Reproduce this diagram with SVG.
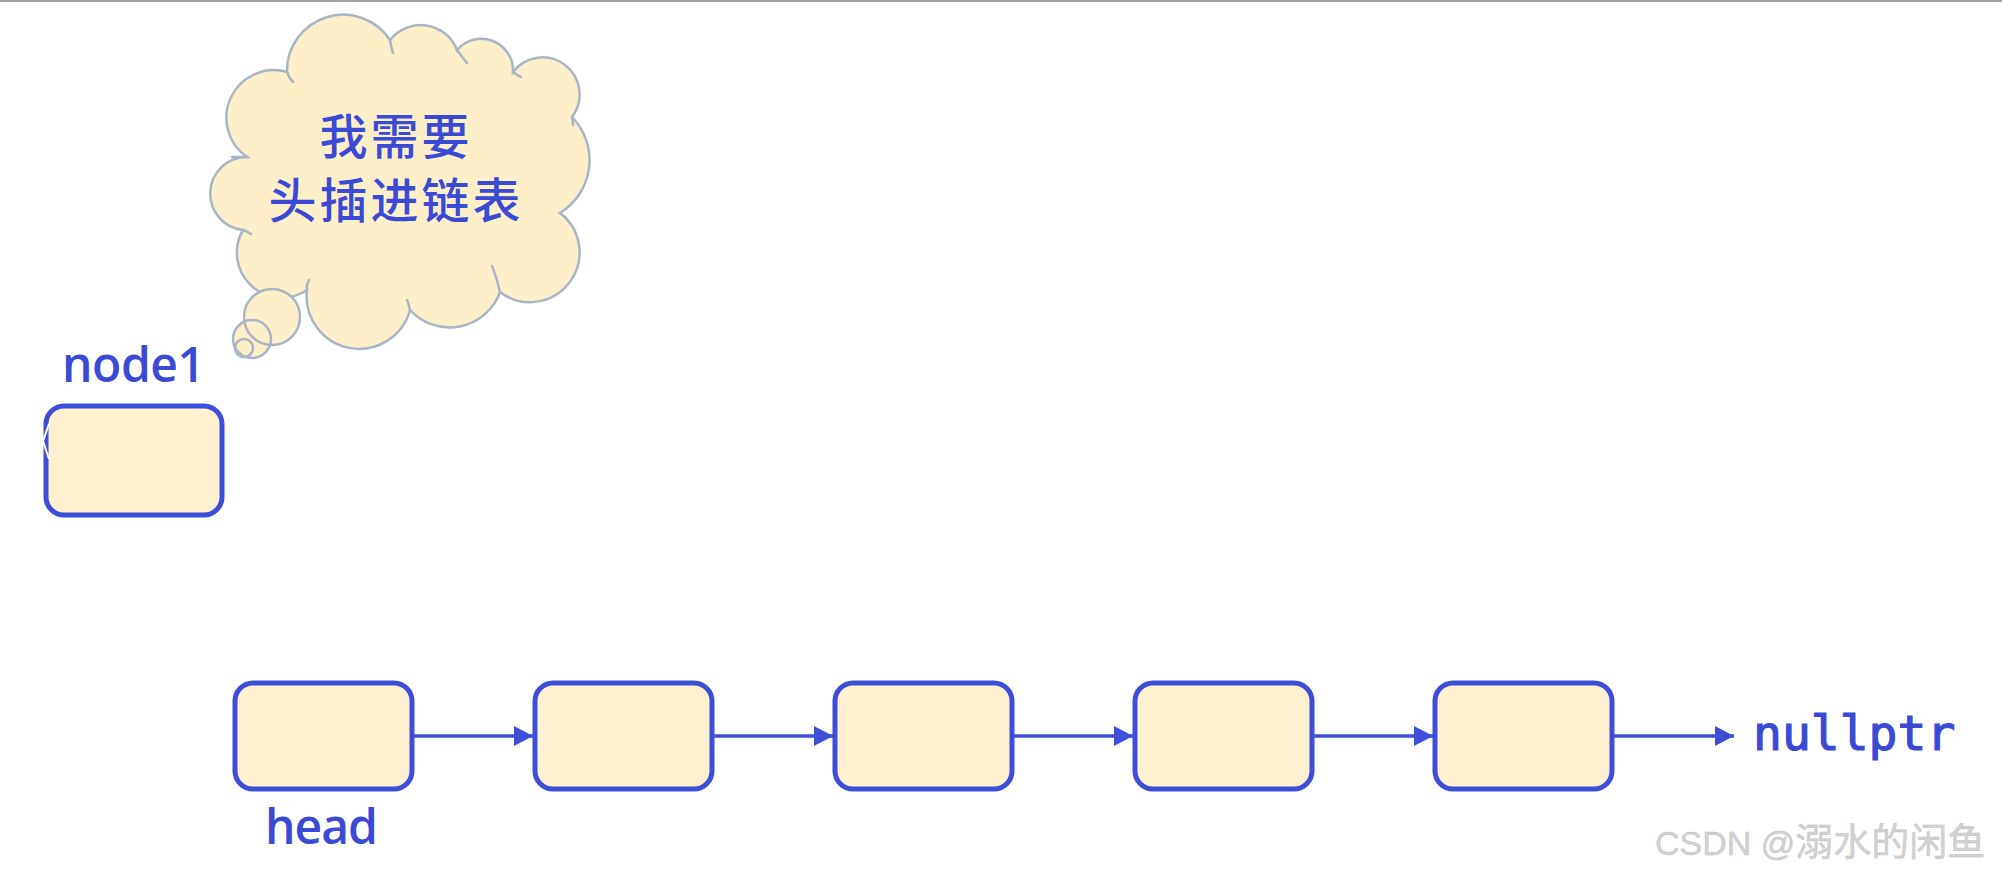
<svg xmlns="http://www.w3.org/2000/svg" width="2002" height="881" viewBox="0 0 2002 881">
<style>
.box{fill:#fff0cf;stroke:#3d4ed8;stroke-width:5}
.lbl{font-family:"Open Sans","DejaVu Sans",sans-serif;font-size:48px;font-weight:600;fill:#3b4ad5}
.mono{font-family:"DejaVu Sans Mono","Liberation Mono",monospace;font-size:48px;font-weight:normal;fill:#3b4ad5;stroke:#3b4ad5;stroke-width:1.2}
.cjk{font-family:"Noto Sans CJK SC",sans-serif;font-size:48px;font-weight:500;fill:#3b4ad5;letter-spacing:3px}
.cloud{fill:#fdefc8;stroke:#a8b4c8;stroke-width:2.5}
.stub{fill:none;stroke:#a8b4c8;stroke-width:2.5;stroke-linecap:round}
.conn{stroke:#3d4ed8;stroke-width:3.5;fill:none}
.wm{font-family:"Liberation Sans","Noto Sans CJK SC",sans-serif;fill:#d2d2d2;stroke:#bdbdbd;stroke-width:0.4}
</style>
<defs>
<marker id="arr" markerWidth="20" markerHeight="20" refX="19" refY="10" orient="auto" markerUnits="userSpaceOnUse">
<path d="M0,0 L19,10 L0,20 Z" fill="#3d4ed8"/>
</marker>
</defs>
<rect x="0" y="0" width="2002" height="881" fill="#ffffff"/>
<rect x="0" y="0" width="2002" height="2" fill="#a0a0a0"/>

<g id="thought">
<path class="cloud" d="M247,157 A47.6,47.6 0 0 1 287,72 A56.1,56.1 0 0 1 390,40 A38.9,38.9 0 0 1 457,50 A31.8,31.8 0 0 1 513,72 A37.1,37.1 0 0 1 572,117 A62,62 0 0 1 560,213 A49.6,49.6 0 0 1 500,292 A53.6,53.6 0 0 1 410,310 A52.6,52.6 0 0 1 307,290 A45,45 0 0 1 243,230 A36.6,36.6 0 0 1 247,157 Z"/>
<path class="stub" d="M287,72 q2,6 6,10 M390,40 q1,7 3,13 M457,50 q5,7 10,13 M513,72 q4,3 8,5 M572,117 q1,4 1,8 M560,213 q6,4 9,9 M500,292 q-3,-14 -8,-26 M410,310 q-1,-5 -3,-10 M307,290 q-1,-5 2,-10 M243,230 q4,1 8,4 M247,157 q-8,0 -15,0"/>
<circle cx="272" cy="317" r="28" fill="#fdefc8"/>
<circle cx="252" cy="339" r="19" fill="#fdefc8"/>
<circle cx="244" cy="348" r="9" fill="#fdefc8"/>
<circle cx="272" cy="317" r="28" class="stub"/>
<circle cx="252" cy="339" r="19" class="stub"/>
<circle cx="244" cy="348" r="9" class="stub"/>
<text class="cjk" x="396" y="154" text-anchor="middle">我需要</text>
<text class="cjk" x="396" y="218" text-anchor="middle">头插进链表</text>
</g>

<g id="node1">
<text class="lbl" x="62" y="382" textLength="143">node1</text>
<rect class="box" x="46" y="406" width="176" height="109" rx="18"/>
<polyline points="49,424 43,441 49,459" fill="none" stroke="#ffffff" stroke-width="2"/>
</g>

<g id="n_head">
<rect class="box" x="235" y="683" width="177" height="106" rx="18"/>
<text class="lbl" x="265" y="844" textLength="113">head</text>
</g>
<g id="n2"><rect class="box" x="535" y="683" width="177" height="106" rx="18"/></g>
<g id="n3"><rect class="box" x="835" y="683" width="177" height="106" rx="18"/></g>
<g id="n4"><rect class="box" x="1135" y="683" width="177" height="106" rx="18"/></g>
<g id="n5"><rect class="box" x="1435" y="683" width="177" height="106" rx="18"/></g>
<g id="nullptr"><text class="mono" x="1753" y="750">nullptr</text></g>

<g id="connectors">
<line class="conn" x1="414" y1="736" x2="533" y2="736" marker-end="url(#arr)"/>
<line class="conn" x1="714" y1="736" x2="833" y2="736" marker-end="url(#arr)"/>
<line class="conn" x1="1014" y1="736" x2="1133" y2="736" marker-end="url(#arr)"/>
<line class="conn" x1="1314" y1="736" x2="1433" y2="736" marker-end="url(#arr)"/>
<line class="conn" x1="1614" y1="736" x2="1734" y2="736" marker-end="url(#arr)"/>
</g>

<text class="wm" x="1655" y="855" font-size="34">CSDN @<tspan font-size="38">溺水的闲鱼</tspan></text>
</svg>
